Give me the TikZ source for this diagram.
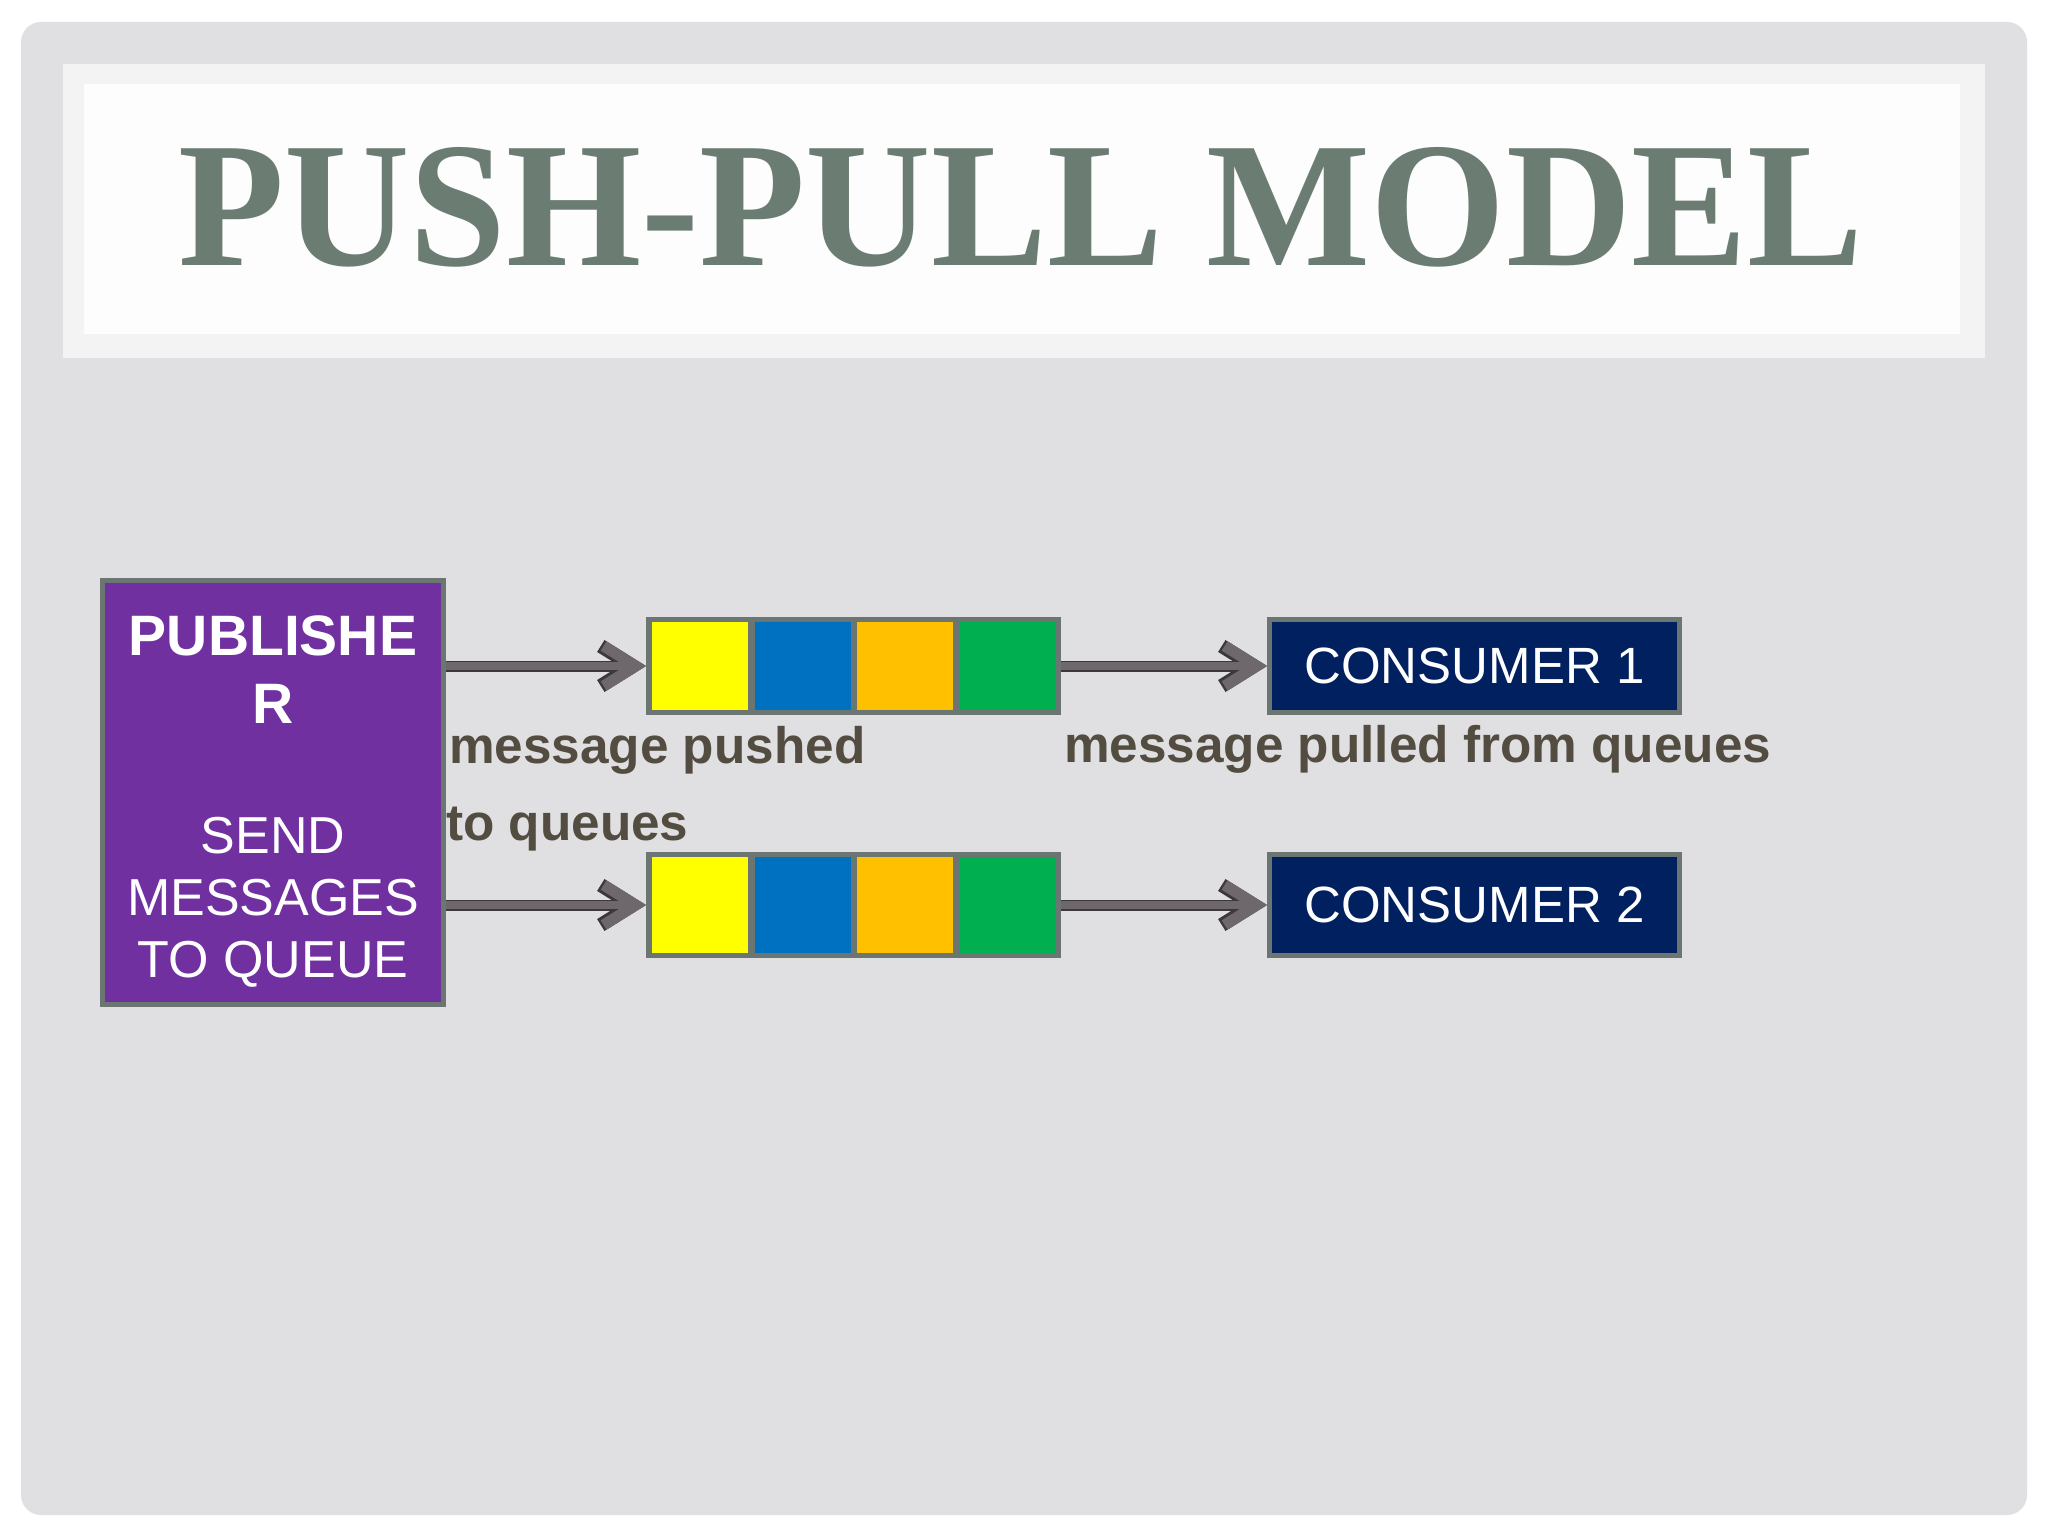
\documentclass[tikz,border=0pt]{standalone}
\usepackage{fontspec}
\setmainfont{Liberation Sans}
\newfontfamily\titlefont{Liberation Serif}
\usetikzlibrary{arrows.meta}
\definecolor{bg}{RGB}{224,223,225}
\definecolor{bandouter}{RGB}{243,243,243}
\definecolor{bandinner}{RGB}{253,253,253}
\definecolor{titlecol}{RGB}{107,125,114}
\definecolor{bordercol}{RGB}{107,117,113}
\definecolor{pubpurple}{RGB}{112,48,160}
\definecolor{navy}{RGB}{0,32,96}
\definecolor{qyellow}{RGB}{255,255,0}
\definecolor{qblue}{RGB}{0,112,192}
\definecolor{qorange}{RGB}{255,192,0}
\definecolor{qgreen}{RGB}{0,176,80}
\definecolor{labelcol}{RGB}{83,76,64}
\definecolor{arrowfill}{RGB}{110,103,108}
\definecolor{arrowdark}{RGB}{60,56,59}
\tikzset{
  boxstyle/.style={draw=bordercol, line width=5bp, inner sep=0pt},
  queuebox/.style={boxstyle, fill=bordercol, minimum width=410bp},
  cellbox/.style={inner sep=0pt, minimum width=96bp},
  consbox/.style={boxstyle, fill=navy, minimum width=410bp,
    text=white, font=\fontsize{51bp}{60bp}\selectfont},
  pubbig/.style={anchor=base, inner sep=0pt, text=white, font=\fontsize{57bp}{68bp}\selectfont\bfseries},
  pubsmall/.style={anchor=base, inner sep=0pt, text=white, font=\fontsize{52bp}{62bp}\selectfont},
  lbl/.style={anchor=base west, inner sep=0pt, text=labelcol, font=\fontsize{51.3bp}{60bp}\selectfont\bfseries},
  arr/.style={line width=8bp, draw=arrowfill, line join=miter,
    -{Straight Barb[length=32bp,width=40bp,line width=11bp]},
    preaction={draw=arrowdark, line width=11bp, -{Straight Barb[length=32bp,width=40bp,line width=14bp]}}}
}
\begin{document}
\begin{tikzpicture}[x=1bp,y=-1bp]
\useasboundingbox (0,0) rectangle (2048,1536);
\fill[white] (0,0) rectangle (2048,1536);
\fill[bg, rounded corners=20bp] (21,22) rectangle (2027,1515);
\fill[bandouter] (63,64) rectangle (1985,358);
\fill[bandinner] (84,84) rectangle (1960,334);
\node[anchor=base west, inner sep=0pt, text=titlecol] (title) at (178,265)
  {\resizebox{1684bp}{118bp}{\titlefont\bfseries PUSH-PULL MODEL}};

% publisher
\node[boxstyle, fill=pubpurple, minimum width=341bp, minimum height=424bp] (pub) at (273,792.5) {};
\node[pubbig] (p1) at (273,655) {PUBLISHE};
\node[pubbig] (p2) at (273,723) {R};
\node[pubsmall] (p3) at (273,853) {SEND};
\node[pubsmall] (p4) at (273,915) {MESSAGES};
\node[pubsmall] (p5) at (273,977) {TO QUEUE};

% queues
\foreach \q/\y/\h in {q1/666/93, q2/905/101}{
  \node[queuebox, minimum height=\h bp] (\q) at (853.5,\y) {};
  \node[cellbox, minimum height={(\h-5)*1bp}, fill=qyellow] (\q a) at (700,\y) {};
  \node[cellbox, minimum height={(\h-5)*1bp}, fill=qblue] (\q b) at (802.5,\y) {};
  \node[cellbox, minimum height={(\h-5)*1bp}, fill=qorange] (\q c) at (905,\y) {};
  \node[cellbox, minimum height={(\h-5)*1bp}, fill=qgreen] (\q d) at (1007.5,\y) {};
}

% consumers
\node[consbox, minimum height=93bp] (c1) at (1474.5,666) {CONSUMER 1};
\node[consbox, minimum height=101bp] (c2) at (1474.5,905) {CONSUMER 2};

% arrows
\draw[arr] (pub.east |- q1.west) -- (q1.west);
\draw[arr] (pub.east |- q2.west) -- (q2.west);
\draw[arr] (q1.east) -- (c1.west);
\draw[arr] (q2.east) -- (c2.west);

% labels
\node[lbl] (l1) at (449,763) {message pushed};
\node[lbl] (l2) at (446,840) {to queues};
\node[lbl] (l3) at (1064,762) {message pulled from queues};
\end{tikzpicture}
\end{document}
